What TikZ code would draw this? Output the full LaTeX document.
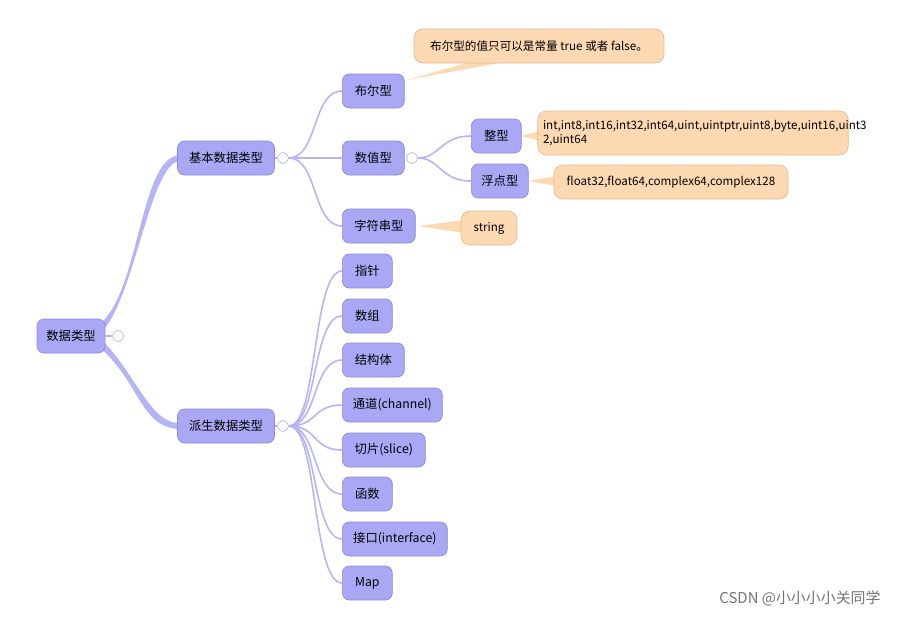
\documentclass[tikz,border=0pt]{standalone}
\usepackage{fontspec}
\newfontfamily\cjk{Noto Sans CJK SC}
\usetikzlibrary{positioning}
\definecolor{topicfill}{HTML}{AAA8F4}
\definecolor{topicline}{HTML}{8C89DE}
\definecolor{branch}{HTML}{B6B4F6}
\definecolor{notefill}{HTML}{FDD9B3}
\definecolor{noteline}{HTML}{E6B98E}
\tikzset{
    topic/.style = {draw = topicline, fill = topicfill, rounded corners = 4pt, minimum height = 0.68cm, inner sep = 2pt, font = \cjk\fontsize{7}{8}\selectfont},
    note/.style = {draw = noteline, fill = notefill, rounded corners = 5pt, minimum height = 0.68cm, inner sep = 3pt, font = \cjk\fontsize{6.6}{8}\selectfont, align = left},
    fold/.style = {draw = branch, fill = white, circle, inner sep = 0pt, minimum size = 0.22cm},
    twig/.style = {draw = branch, line width = 0.9pt}
}
\begin{document}
\begin{tikzpicture}[x = 0.02cm, y = -0.02cm]
        \useasboundingbox (0,0) rectangle (922,616);
        % thick main branches
        \fill[branch] (100,324) .. controls (140,290) and (140,156) .. (180,155) -- (180,161) .. controls (150,162) and (135,300) .. (100,334) -- cycle;
        \fill[branch] (100,338) .. controls (135,372) and (150,424) .. (180,423) -- (180,429) .. controls (140,428) and (140,382) .. (100,348) -- cycle;
        % main topics
        \node[topic, minimum width = 1.36cm] (root) at (71,336) {数据类型};
        \node[topic, minimum width = 1.94cm] (basic) at (226,158) {基本数据类型};
        \node[topic, minimum width = 1.94cm] (derived) at (226,426) {派生数据类型};
        \node[fold] (rootfold) at (118,336) {};
        \node[fold] (basicfold) at (283,158) {};
        \node[fold] (derivedfold) at (283,426) {};
        \draw[twig] (root.east) -- (rootfold.west);
        \draw[twig] (basic.east) -- (basicfold.west);
        \draw[twig] (derived.east) -- (derivedfold.west);
        % basic types
        \node[topic, minimum width = 1.24cm, anchor = west] (bool) at (342,91) {布尔型};
        \node[topic, minimum width = 1.24cm, anchor = west] (number) at (342,158) {数值型};
        \node[topic, minimum width = 1.46cm, anchor = west] (string) at (342,226) {字符串型};
        \foreach \name/\y in {bool/91,number/158,string/226}
            \draw[twig] (basicfold.east) .. controls (318,158) and (312,\y) .. (\name.west);
        \node[fold] (numberfold) at (412,158) {};
        \node[topic, minimum width = 1.0cm, anchor = west] (int) at (471,136) {整型};
        \node[topic, minimum width = 1.14cm, anchor = west] (float) at (471,181) {浮点型};
        \draw[twig] (numberfold.east) .. controls (440,158) and (440,136) .. (int.west);
        \draw[twig] (numberfold.east) .. controls (440,158) and (440,181) .. (float.west);
        % notes
        \fill[notefill] (407,80) -- (470,62) -- (505,62) -- cycle;
        \fill[notefill] (521,136) -- (540,131) -- (540,141) -- cycle;
        \fill[notefill] (528,181) -- (557,176) -- (557,186) -- cycle;
        \fill[notefill] (418,226) -- (464,220) -- (464,233) -- cycle;
        \node[note, minimum width = 5.0cm] (boolnote) at (539,46) {布尔型的值只可以是常量 true 或者 false。};
        \node[note, text width = 6.0cm, minimum height = 0.88cm] (intnote) at (693,133) {int,int8,int16,int32,int64,uint,uintptr,uint8,byte,uint16,uint3\\2,uint64};
        \node[note, minimum width = 4.68cm] (floatnote) at (671,182) {float32,float64,complex64,complex128};
        \node[note, minimum width = 1.12cm] (stringnote) at (489,228) {string};
        % derived types
        \foreach \y/\w/\name/\txt in {271/1.0/pointer/指针, 316/1.0/array/数组, 360/1.24/struct/结构体, 405/2.0/channel/通道(channel), 450/1.66/slice/切片(slice), 494/1.0/func/函数, 539/2.1/iface/接口(interface), 583/1.0/map/Map}
        {
            \node[topic, minimum width = \w cm, anchor = west] (\name) at (342,\y) {\txt};
            \draw[twig] (derivedfold.east) .. controls (318,426) and (312,\y) .. (\name.west);
        }
        \node[font = \cjk\fontsize{8.5}{10}\selectfont, text = black!55] (mark) at (800,598) {CSDN @小小小小关同学};
    \end{tikzpicture}
\end{document}
